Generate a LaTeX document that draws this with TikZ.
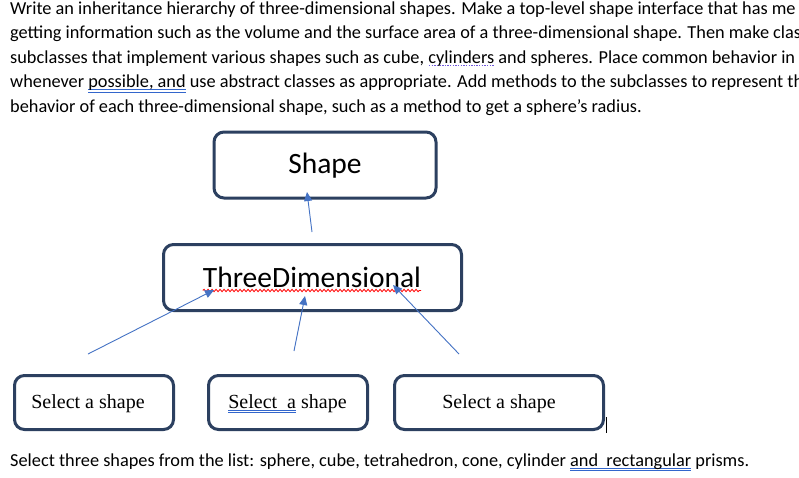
\documentclass[tikz,border=0pt]{standalone}
\usepackage{fontspec}
\setmainfont{Carlito}
\newfontfamily\timesf{Liberation Serif}
\usetikzlibrary{arrows.meta,decorations.pathmorphing}
\definecolor{boxnavy}{RGB}{44,64,96}
\definecolor{arrowblue}{RGB}{68,114,196}
\definecolor{ulblue}{RGB}{51,102,204}
\definecolor{ulpurple}{RGB}{112,88,220}
\newsavebox\ulbox
\newcommand\gramul[1]{\sbox\ulbox{#1}\rlap{\color{ulblue}\rule[-2.6pt]{\wd\ulbox}{0.8pt}}\rlap{\color{ulblue}\rule[-4.8pt]{\wd\ulbox}{0.8pt}}\usebox\ulbox}
\newcommand\dotul[1]{\sbox\ulbox{#1}\rlap{\color{ulpurple}\hbox to \wd\ulbox{\xleaders\hbox to 2.6pt{\hss\rule[-2.6pt]{1.4pt}{0.9pt}\hss}\hfill}}\usebox\ulbox}
\begin{document}
\begin{tikzpicture}[x=1pt,y=-1pt,
  body/.style={anchor=base west,inner sep=0pt,font=\fontsize{18.3}{22}\selectfont},
  classbox/.style={draw=boxnavy,line width=3pt,rounded corners=10pt,fill=white,inner sep=0pt},
  inherit/.style={draw=arrowblue,line width=0.9pt,-{Triangle[length=9pt,width=8pt]}},
  bigtext/.style={inner sep=0pt,anchor=base,font=\fontsize{29.5}{32}\selectfont},
  seltext/.style={inner sep=0pt,anchor=base,font=\timesf\fontsize{20}{24}\selectfont}]
\fill[white] (0,0) rectangle (799,477);
\useasboundingbox (0,0) rectangle (799,477);
\clip (0,0) rectangle (799,477);

% paragraph
\node[body] (l1) at (10,14) {Write an inheritance hierarchy of three-dimensional shapes. Make a top-level shape interface that has me};
\node[body] (l2) at (10,38.5) {getting information such as the volume and the surface area of a three-dimensional shape. Then make clas};
\node[body] (l3) at (10,63) {subclasses that implement various shapes such as cube, \dotul{cylinders} and spheres. Place common behavior in};
\node[body] (l4) at (10,87.5) {whenever \gramul{possible, and} use abstract classes as appropriate. Add methods to the subclasses to represent th};
\node[body] (l5) at (10,112) {behavior of each three-dimensional shape, such as a method to get a sphere’s radius.};

% class boxes
\node[classbox,minimum width=222pt,minimum height=66pt] (shape) at (325,165) {};
\node[bigtext] (shapel) at (325,173.5) {Shape};
\node[classbox,minimum width=298pt,minimum height=66pt] (td) at (312.5,277.5) {};
\node[bigtext] (tdl) at (312,287.5) {ThreeDimensional};
\draw[red,line width=0.8pt,decorate,decoration={snake,amplitude=1.2pt,segment length=4pt}]
  ([yshift=-3pt]tdl.base west) -- ([yshift=-3pt]tdl.base east);

\node[classbox,minimum width=159pt,minimum height=54pt] (b1) at (94,402.5) {};
\node[classbox,minimum width=159pt,minimum height=54pt] (b2) at (288,402.5) {};
\node[classbox,minimum width=209pt,minimum height=54pt] (b3) at (499,402.5) {};
\node[seltext] (s1) at (88,408) {Select a shape};
\node[seltext] (s2) at (287.5,408) {\gramul{Select\ \ a} shape};
\node[seltext] (s3) at (499,408) {Select a shape};

% connectors
\coordinate (a0s) at (312,232);  \coordinate (a0e) at (307,192);
\coordinate (a1s) at (88,354);   \coordinate (a1e) at (214,290);
\coordinate (a2s) at (294,351);  \coordinate (a2e) at (305,296);
\coordinate (a3s) at (459,354);  \coordinate (a3e) at (393,285);
\draw[inherit] (a0s) -- (a0e);
\draw[inherit] (a1s) -- (a1e);
\draw[inherit] (a2s) -- (a2e);
\draw[inherit] (a3s) -- (a3e);

% text caret
\coordinate (c1) at (606,417); \coordinate (c2) at (606,433);
\draw[black,line width=0.8pt] (c1) -- (c2);

% bottom sentence
\node[body] (l6) at (10,466) {Select three shapes from the list: sphere, cube, tetrahedron, cone, cylinder \gramul{and\ \ rectangular} prisms.};
\end{tikzpicture}
\end{document}
